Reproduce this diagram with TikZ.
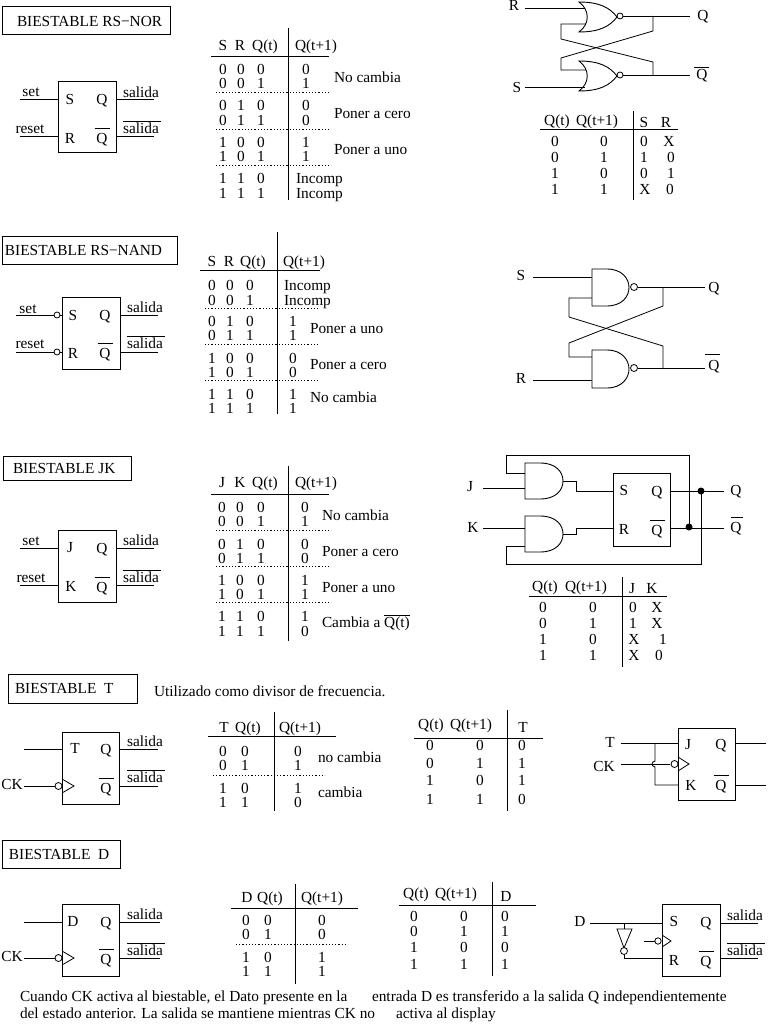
\documentclass[tikz,border=0pt]{standalone}
\usepackage{fontspec}
\setmainfont{Liberation Serif}
\newcount\nn
\tikzset{
  lab/.style={inner sep=0pt,outer sep=0pt,font=\fontsize{15.35}{15.35}\selectfont},
  wire/.style={line width=0.9pt,line join=miter},
  thinw/.style={line width=0.8pt},
  rule/.style={line width=1pt},
  dots/.style={line width=0.8pt,dash pattern=on 1.2pt off 2pt},
  box/.style={draw,line width=1pt,inner sep=0pt,outer sep=0pt},
  bub/.style={draw,line width=0.8pt,fill=white}
}
% centred text: x, visual middle y, text
\newcommand\T[3]{\global\advance\nn by 1\relax\node[lab,anchor=base,name=t\the\nn] at (#1,{#2+5.3}) {#3};}
% left aligned text
\newcommand\TL[3]{\global\advance\nn by 1\relax\node[lab,anchor=base west,name=t\the\nn] at (#1,{#2+5.3}) {#3};}
% one table row
\newcommand\TR[2]{\foreach \a/\b in {#2} {\T{\a}{#1}{\b}}}
% title box
\newcommand\TB[7]{\node[box,minimum width={#4-#2},minimum height={#5-#3}] (#1) at ({(#2+#4)/2},{(#3+#5)/2}) {};\TL{#6}{(#3+#5)/2}{#7}}
% flip-flop box: name,l,t,r,b,ya,yb,wire start,wire end
\newcommand\FF[9]{\node[box,minimum width={#4-#2},minimum height={#5-#3}] (#1) at ({(#2+#4)/2},{(#3+#5)/2}) {};
  \draw[wire] (#1.west |- #8,#6) -- (#8,#6);
  \draw[wire] (#1.west |- #8,#7) -- (#8,#7);
  \draw[wire] (#1.east |- #9,#6) -- (#9,#6);
  \draw[wire] (#1.east |- #9,#7) -- (#9,#7);}
% Q with overbar
\newcommand\QB[2]{\T{#1}{#2}{Q}\draw[thinw] ({#1-7.5},{#2-9.5}) -- ({#1+7.5},{#2-9.5});}
% salida with overbar
\newcommand\SB[2]{\T{#1}{#2}{salida}\draw[thinw] ({#1-18},{#2-6.5}) -- ({#1+20},{#2-6.5});}
\newcommand\Bub[3]{\draw[bub] ({#1},{#2}) circle [radius=#3];}
% clock triangle with bubble
\newcommand\CLK[3]{\draw[thinw] (#1,{#2-7}) -- ({#1+#3},#2) -- (#1,{#2+7});\Bub{#1-3.5}{#2}{3.5}}
% NOR gate: y offset
\newcommand\NORG[1]{\draw[wire] (579,{2+#1}) .. controls (590,{10+#1}) and (590,{24+#1}) .. (579,{32+#1})
  .. controls (600,{32+#1}) and (610,{26+#1}) .. (617,{17+#1})
  .. controls (610,{8+#1}) and (600,{2+#1}) .. cycle;\Bub{620}{16+#1}{3}}
% NAND/AND body: top,left,bottom,apex x
\newcommand\ANDG[4]{\draw[wire] (#2,#1) -- ({#2+0.4*(#4-#2)},#1) .. controls ({#4-7},#1) and (#4,{(#1+#3)/2-9}) .. (#4,{(#1+#3)/2})
  .. controls (#4,{(#1+#3)/2+9}) and ({#4-7},#3) .. ({#2+0.4*(#4-#2)},#3) -- (#2,#3) -- cycle;}
\begin{document}
\begin{tikzpicture}[x=1pt,y=-1pt]
\useasboundingbox (0,0) rectangle (768,1024);

%%%%% RS-NOR
\TB{tnor}{2}{7}{170}{35}{17}{BIESTABLE RS−NOR}
\FF{ffa}{58}{82}{116}{153}{99}{136}{20}{154}
\T{31}{91}{set}\T{30}{128}{reset}\T{141}{92}{salida}\SB{141}{128}
\T{70}{99}{S}\T{102}{99}{Q}\T{70}{138}{R}\QB{102}{138}
\draw[rule] (288,28) -- (288,200);
\draw[rule] (211,57) -- (329,57);
\TR{45}{223/S,240/R,265/Q(t),316/Q(t+1)}
\TR{69}{223/0,241/0,261/0,306/0}\TR{83}{223/0,241/0,261/1,306/1}
\TR{105}{223/0,241/1,261/0,306/0}\TR{120}{223/0,241/1,261/1,306/0}
\TR{142}{223/1,241/0,261/0,306/1}\TR{156}{223/1,241/0,261/1,306/1}
\TR{178}{223/1,241/1,261/0}\TR{193}{223/1,241/1,261/1}
\TL{296}{178}{Incomp}\TL{296}{193}{Incomp}
\foreach \y in {92,129,165} \draw[dots] (216,\y) -- (330,\y);
\TL{334}{77}{No cambia}\TL{334}{113}{Poner a cero}\TL{334}{149}{Poner a uno}
% NOR latch
\NORG{0}\NORG{59}
\draw[wire] (525,8) -- (585,8);
\draw[wire] (525,87) -- (585,87);
\draw[wire] (623,16) -- (690,16);
\draw[wire] (623,75) -- (690,75);
\draw[thinw] (586,24) -- (561,24) -- (561,39) -- (653,62) -- (653,75);
\draw[thinw] (653,16) -- (653,31) -- (561,58) -- (561,70) -- (586,70);
\T{514}{5.5}{R}\T{517}{87}{S}\T{703}{15}{Q}\T{702}{74}{Q}
\draw[thinw] (694,67) -- (709,67);
% table
\draw[rule] (633,111) -- (633,200);
\draw[rule] (540,130) -- (678,130);
\TR{120}{557/Q(t),597/Q(t+1)}\TR{122}{644/S,666/R}
\TR{141}{555/0,604/0,644/0,669/X}\TR{157}{555/0,604/1,644/1,671/0}
\TR{173}{555/1,604/0,644/0,671/1}\TR{189}{555/1,604/1,645/X,670/0}

%%%%% RS-NAND
\TB{tnand}{2}{236}{177}{264}{5}{BIESTABLE RS−NAND}
\FF{ffb}{62}{297}{120}{369}{315}{352}{16}{158}
\Bub{57}{315}{3}\Bub{57}{352}{3}
\T{28}{308}{set}\T{30}{343}{reset}\T{145}{307}{salida}\SB{145}{343}
\T{73}{315}{S}\T{105}{315}{Q}\T{73}{353}{R}\QB{105}{353}
\draw[rule] (277,232) -- (277,414);
\draw[rule] (200,270) -- (320,270);
\TR{261}{212/S,229/R,253/Q(t),304/Q(t+1)}
\TR{285}{212/0,230/0,250/0}\TR{300}{212/0,230/0,250/1}
\TL{284}{285}{Incomp}\TL{284}{300}{Incomp}
\TR{321}{212/0,230/1,250/0,293/1}\TR{335}{212/0,230/1,250/1,293/1}
\TR{358}{212/1,230/0,250/0,293/0}\TR{372}{212/1,230/0,250/1,293/0}
\TR{394}{212/1,230/1,250/0,293/1}\TR{408}{212/1,230/1,250/1,293/1}
\foreach \y in {308,344,380} \draw[dots] (205,\y) -- (320,\y);
\TL{310}{328}{Poner a uno}\TL{310}{364}{Poner a cero}\TL{310}{397}{No cambia}
% NAND latch
\ANDG{269}{592}{306}{629}\ANDG{350}{592}{388}{629}
\Bub{634}{287}{3.5}\Bub{634}{368}{3.5}
\draw[wire] (533,277) -- (592,277);
\draw[wire] (533,380) -- (592,380);
\draw[wire] (637.5,287) -- (705,287);
\draw[wire] (637.5,368) -- (705,368);
\draw[thinw] (592,298) -- (569,298) -- (569,317) -- (663,346) -- (663,368);
\draw[thinw] (663,287) -- (663,306) -- (569,343) -- (569,357) -- (592,357);
\T{521}{275}{S}\T{521}{378}{R}\T{714}{287}{Q}\T{714}{365}{Q}
\draw[thinw] (705,354) -- (720,354);

%%%%% JK
\TB{tjk}{3}{456}{131}{480}{13}{BIESTABLE JK}
\FF{ffc}{58}{530}{116}{602}{548}{585}{20}{154}
\T{31}{540}{set}\T{31}{577}{reset}\T{141}{540}{salida}\SB{141}{577}
\T{70}{547}{J}\T{102}{548}{Q}\T{71}{586}{K}\QB{102}{587}
\draw[rule] (288,466) -- (288,641);
\draw[rule] (211,494) -- (329,494);
\TR{482}{222/J,240/K,265/Q(t),316/Q(t+1)}
\TR{507}{222/0,240/0,261/0,305/0}\TR{521}{222/0,240/0,261/1,305/1}
\TR{544}{222/0,240/1,261/0,305/0}\TR{558}{222/0,240/1,261/1,305/0}
\TR{580}{222/1,240/0,261/0,305/1}\TR{594}{222/1,240/0,261/1,305/1}
\TR{616}{222/1,240/1,261/0,305/1}\TR{631}{222/1,240/1,261/1,305/0}
\foreach \y in {530,566,602} \draw[dots] (216,\y) -- (330,\y);
\TL{322}{515}{No cambia}\TL{322}{551}{Poner a cero}\TL{322}{587}{Poner a uno}
\TL{322}{622}{Cambia a $\overline{\hbox{Q(t)}}$}
% JK circuit
\node[box,minimum width=57,minimum height=73] (ffd) at (641.5,509.5) {};
\ANDG{463}{525}{499}{563}\ANDG{516}{525}{552}{563}
\draw[wire] (483,488) -- (525,488);
\draw[wire] (483,528) -- (525,528);
\draw[wire] (563,481) -- (576,481) -- (576,491) -- (ffd.west |- 576,491);
\draw[wire] (563,534) -- (576,534) -- (576,528) -- (ffd.west |- 576,528);
\draw[wire] (ffd.east |- 724,491) -- (724,491);
\draw[wire] (ffd.east |- 724,528) -- (724,528);
\draw[wire] (525,473) -- (506,473) -- (506,455) -- (689,455) -- (689,528);
\draw[wire] (525,546) -- (506,546) -- (506,564) -- (701,564) -- (701,491);
\fill (701,491) circle [radius=3.5];
\fill (689,527) circle [radius=3.5];
\T{470}{486}{J}\T{473}{527}{K}\T{736}{490}{Q}\T{736}{527}{Q}
\draw[thinw] (731,517) -- (743,517);
\T{624}{490}{S}\T{657}{491}{Q}\T{624}{529}{R}\QB{657}{530}
% table
\draw[rule] (622,577) -- (622,667);
\draw[rule] (529,596) -- (667,596);
\TR{586}{545/Q(t),586/Q(t+1)}\TR{588}{632/J,652/K}
\TR{607}{543/0,593/0,633/0,657/X}\TR{623}{543/0,593/1,633/1,657/X}
\TR{639}{543/1,593/0,634/X,663/1}\TR{655}{543/1,593/1,634/X,659/0}

%%%%% T
\TB{tt}{8}{674}{137}{703}{15}{BIESTABLE\ \ T}
\TL{154}{691}{Utilizado como divisor de frecuencia.}
\FF{ffe}{62}{732}{119}{804}{749}{786}{24}{158}
\draw[wire] (24,786) -- (55,786);
\CLK{62}{786}{12}
\T{75}{748}{T}\T{106}{749}{Q}\QB{106}{788}\T{12}{784}{CK}
\T{145}{741}{salida}\SB{145}{777}
\draw[rule] (274,712) -- (274,811);
\draw[rule] (208,736) -- (336,736);
\TR{727}{224/T,248/Q(t),300/Q(t+1)}
\TR{751}{223/0,245/0,298/0}\TR{765}{223/0,245/1,298/1}
\TR{788}{223/1,245/0,298/1}\TR{802}{223/1,245/1,298/0}
\draw[dots] (213,775) -- (325,775);
\TL{318}{757}{no cambia}\TL{318}{792}{cambia}
% table 2
\draw[rule] (507,710) -- (507,811);
\draw[rule] (414,738) -- (543,738);
\TR{724}{431/Q(t),471/Q(t+1)}\T{523}{727}{T}
\TR{745}{430/0,480/0,522/0}\TR{763}{430/0,480/1,522/1}
\TR{780}{430/1,480/0,522/1}\TR{799}{430/1,480/1,522/0}
% JK as T
\node[box,minimum width=57,minimum height=72] (fff) at (706.5,764) {};
\draw[wire] (fff.west |- 621,743) -- (621,743);
\draw[wire] (621,764) -- (670,764);
\draw[wire] (655,743) -- (655,761) .. controls (651,762) and (651,766) .. (655,767) -- (655,785) -- (fff.west |- 655,785);
\draw[wire] (fff.east |- 766,743) -- (766,743);
\draw[wire] (fff.east |- 766,785) -- (766,785);
\CLK{678}{764}{11}
\T{610}{742}{T}\T{604}{766}{CK}\T{688}{744}{J}\T{721}{744}{Q}\T{691}{785}{K}\QB{721}{785}

%%%%% D
\TB{td}{2}{840}{120}{868}{9}{BIESTABLE\ \ D}
\FF{ffg}{62}{904}{119}{976}{922}{958}{24}{160}
\draw[wire] (24,958) -- (55,958);
\CLK{62}{958}{12}
\T{73}{921}{D}\T{106}{922}{Q}\QB{106}{959}\T{12}{956}{CK}
\T{145}{914}{salida}\SB{145}{950}
\draw[rule] (295,884) -- (295,984);
\draw[rule] (231,908) -- (358,908);
\TR{897}{247/D,270/Q(t),322/Q(t+1)}
\TR{920}{246/0,268/0,322/0}\TR{934}{246/0,268/1,322/0}
\TR{957}{246/1,268/0,322/1}\TR{971}{246/1,268/1,322/1}
\draw[dots] (236,944) -- (348,944);
% table 2
\draw[rule] (492,882) -- (492,976);
\draw[rule] (399,905) -- (536,905);
\TR{893}{416/Q(t),456/Q(t+1)}\T{506}{896}{D}
\TR{916}{414/0,464/0,505/0}\TR{931}{414/0,464/1,505/1}
\TR{947}{414/1,464/0,505/0}\TR{964}{414/1,464/1,505/1}
% SR as D
\node[box,minimum width=58,minimum height=72] (ffh) at (691,940) {};
\draw[wire] (ffh.west |- 590,923) -- (590,923);
\draw[wire] (ffh.east |- 758,923) -- (758,923);
\draw[wire] (ffh.east |- 758,958) -- (758,958);
\draw[thinw] (624,923) -- (624,929);
\draw[thinw] (617,929) -- (632,929) -- (624,948) -- cycle;
\draw[thinw] (624,954) -- (624,958) -- (ffh.west |- 624,958);
\Bub{624}{951}{3.5}
\draw[thinw] (644,941) -- (655,941);
\draw[thinw] (662,935) -- (671,941) -- (662,947);
\Bub{658}{941}{3.2}
\T{580}{921}{D}\T{674}{921}{S}\T{706}{922}{Q}\T{674}{960}{R}\QB{706}{961}
\T{745}{915}{salida}\SB{745}{950}

%%%%% bottom text
\TL{20}{996}{Cuando CK activa al biestable, el Dato presente en la}
\TL{372}{996}{entrada D es transferido a la salida Q independientemente}
\TL{20}{1013}{del estado anterior. La salida se mantiene mientras CK no}
\TL{396}{1013}{activa al display}
\end{tikzpicture}
\end{document}
